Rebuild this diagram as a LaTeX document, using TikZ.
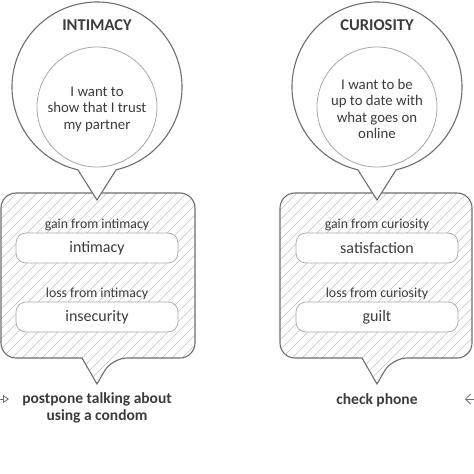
\documentclass[tikz,border=0pt]{standalone}
\usepackage{fontspec}
\setmainfont{Carlito}
\usetikzlibrary{arrows.meta,calc}
\definecolor{txt}{HTML}{3C3C3C}
\definecolor{outline}{HTML}{6E6E6E}
\definecolor{inner}{HTML}{A8A8A8}
\definecolor{hatchc}{HTML}{C4C4C4}
\begin{document}
\begin{tikzpicture}[x=1pt,y=1pt,
  outerc/.style={draw=outline,line width=1.1pt,fill=white},
  innerc/.style={draw=inner,line width=0.8pt,fill=white},
  bubble/.style={draw=outline,line width=1.1pt},
  hatchline/.style={draw=hatchc,line width=0.6pt},
  title/.style={font=\bfseries\fontsize{16.5}{19}\selectfont,text=txt},
  want/.style={font=\fontsize{14.8}{16.5}\selectfont,text=txt,align=center},
  small/.style={font=\fontsize{13.8}{16}\selectfont,text=txt},
  valbox/.style={draw=inner,line width=0.7pt,fill=white,rounded corners=10pt,minimum width=162pt,minimum height=30pt,font=\fontsize{16}{19}\selectfont,text=txt},
  action/.style={font=\bfseries\fontsize{15.5}{16.5}\selectfont,text=txt,align=center},
  arr/.style={draw=outline,line width=0.8pt}
]
\useasboundingbox (0,0) rectangle (474,-474);
\clip (0,0) rectangle (474,-474);
\fill[white] (0,0) rectangle (474,-474);

% ---------- left box ----------
\def\leftbox{(97,-384) -- (82,-358) [rounded corners=15pt] -- (1,-358) -- (1,-193) -- (195,-193) -- (195,-358) -- (112,-358) [sharp corners] -- cycle}
\begin{scope}
  \clip \leftbox;
  \foreach \k in {-400,-390,...,400} \draw[hatchline] (\k,-400) -- ++(230,230);
\end{scope}
\draw[bubble] \leftbox;

% ---------- right box ----------
\def\rightbox{(377,-384) -- (362,-358) [rounded corners=15pt] -- (280,-358) -- (280,-193) -- (472,-193) -- (472,-358) -- (392,-358) [sharp corners] -- cycle}
\begin{scope}
  \clip \rightbox;
  \foreach \k in {-100,-90,...,600} \draw[hatchline] (\k,-400) -- ++(230,230);
\end{scope}
\draw[bubble] \rightbox;

% ---------- circles ----------
\draw[outerc] (97,-200) -- ($(97,-87)+(-77:85)$) arc[start angle=-77,end angle=257,radius=85] -- cycle;
\draw[innerc] (97,-107) circle[radius=60];
\draw[outerc] (377,-200) -- ($(377,-87)+(-77:85)$) arc[start angle=-77,end angle=257,radius=85] -- cycle;
\draw[innerc] (377,-107) circle[radius=60];

\node[title] (tI) at (97,-25) {INTIMACY};
\node[want] (wI) at (97,-109) {I want to\\show that I trust\\my partner};
\node[title] (tC) at (377,-25) {CURIOSITY};
\node[want] (wC) at (377,-109) {I want to be\\up to date with\\what goes on\\online};

% ---------- gains / losses ----------
\node[small] (gI) at (97,-225) {gain from intimacy};
\node[valbox] (vgI) at (97,-248) {intimacy};
\node[small] (lI) at (97,-294) {loss from intimacy};
\node[valbox] (vlI) at (97,-317) {insecurity};

\node[small] (gC) at (377,-225) {gain from curiosity};
\node[valbox] (vgC) at (377,-248) {satisfaction};
\node[small] (lC) at (377,-294) {loss from curiosity};
\node[valbox] (vlC) at (377,-317) {guilt};

% ---------- actions ----------
\node[action] (aI) at (97,-408) {postpone talking about\\using a condom};
\node[action] (aC) at (377,-400) {check phone};

% ---------- cut-off arrows ----------
\coordinate (la0) at (-6,-399);
\coordinate (la1) at (9,-399);
\draw[arr,-{Triangle[open,length=6pt,width=8pt]}] (la0) -- (la1);
\coordinate (ra0) at (480,-399);
\coordinate (ra1) at (465,-399);
\draw[arr,-{Straight Barb[length=5pt,width=10pt]}] (ra0) -- (ra1);
\end{tikzpicture}
\end{document}
